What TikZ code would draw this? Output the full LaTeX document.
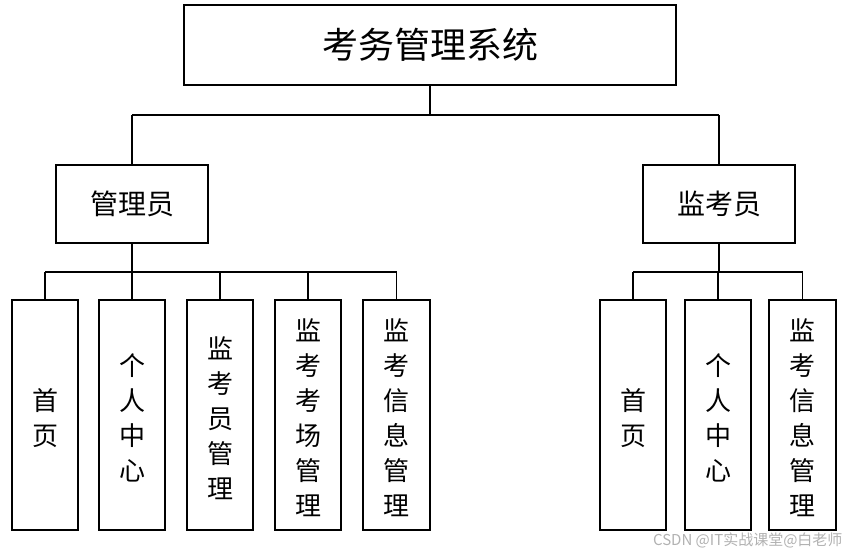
\documentclass[tikz,border=0pt]{standalone}
\usepackage{fontspec}
\newfontfamily\cjk{Noto Sans CJK SC}
\begin{document}
\begin{tikzpicture}[x=1pt,y=-1pt,
  box/.style={draw,line width=1.3pt,inner sep=0pt},
  vt/.style={font=\cjk\fontsize{26}{35}\selectfont,align=center},
  ln/.style={line width=1.3pt}]
\useasboundingbox (0,0) rectangle (852,558);
\fill[white] (0,0) rectangle (852,558);
\draw[box] (184,5) rectangle (676,85);
\node[font=\cjk\fontsize{36}{40}\selectfont] (top) at (430,45) {考务管理系统};
\draw[box] (56,165) rectangle (208,243);
\node[font=\cjk\fontsize{28}{32}\selectfont] (adm) at (132,204) {管理员};
\draw[box] (643,165) rectangle (795,243);
\node[font=\cjk\fontsize{28}{32}\selectfont] (inv) at (719,204) {监考员};
\coordinate (t0) at (430,85); \coordinate (t1) at (430,115);
\coordinate (a0) at (132,115); \coordinate (a1) at (132,165);
\coordinate (i0) at (719,115); \coordinate (i1) at (719,165);
\draw[ln] (t0) -- (t1) (a0) -- (i0) (a0) -- (a1) (i0) -- (i1);
\foreach \n/\l/\r/\t in {c1/12/78/{首\\页},c2/99/165/{个\\人\\中\\心},c3/187/253/{监\\考\\员\\管\\理},c4/275/341/{监\\考\\考\\场\\管\\理},c5/363/430/{监\\考\\信\\息\\管\\理}}{
  \draw[box] (\l,300) rectangle (\r,530);
  \node[vt] (\n) at ({(\l+\r)/2},418) {\t};
  \draw[ln] ({(\l+\r)/2},272) -- ({(\l+\r)/2},300);
}
\draw[ln] (132,243) -- (132,272);
\draw[ln] (45,272) -- (396.5,272);
\foreach \n/\l/\r/\t in {d1/600/666/{首\\页},d2/685/751/{个\\人\\中\\心},d3/769/836/{监\\考\\信\\息\\管\\理}}{
  \draw[box] (\l,300) rectangle (\r,530);
  \node[vt] (\n) at ({(\l+\r)/2},418) {\t};
  \draw[ln] ({(\l+\r)/2},272) -- ({(\l+\r)/2},300);
}
\draw[ln] (719,243) -- (719,272);
\draw[ln] (633,272) -- (802.5,272);
\node[font=\cjk\fontsize{15}{17}\selectfont,text=gray!60,anchor=east] (wm) at (846,540) {CSDN @IT实战课堂@白老师};
\end{tikzpicture}
\end{document}
